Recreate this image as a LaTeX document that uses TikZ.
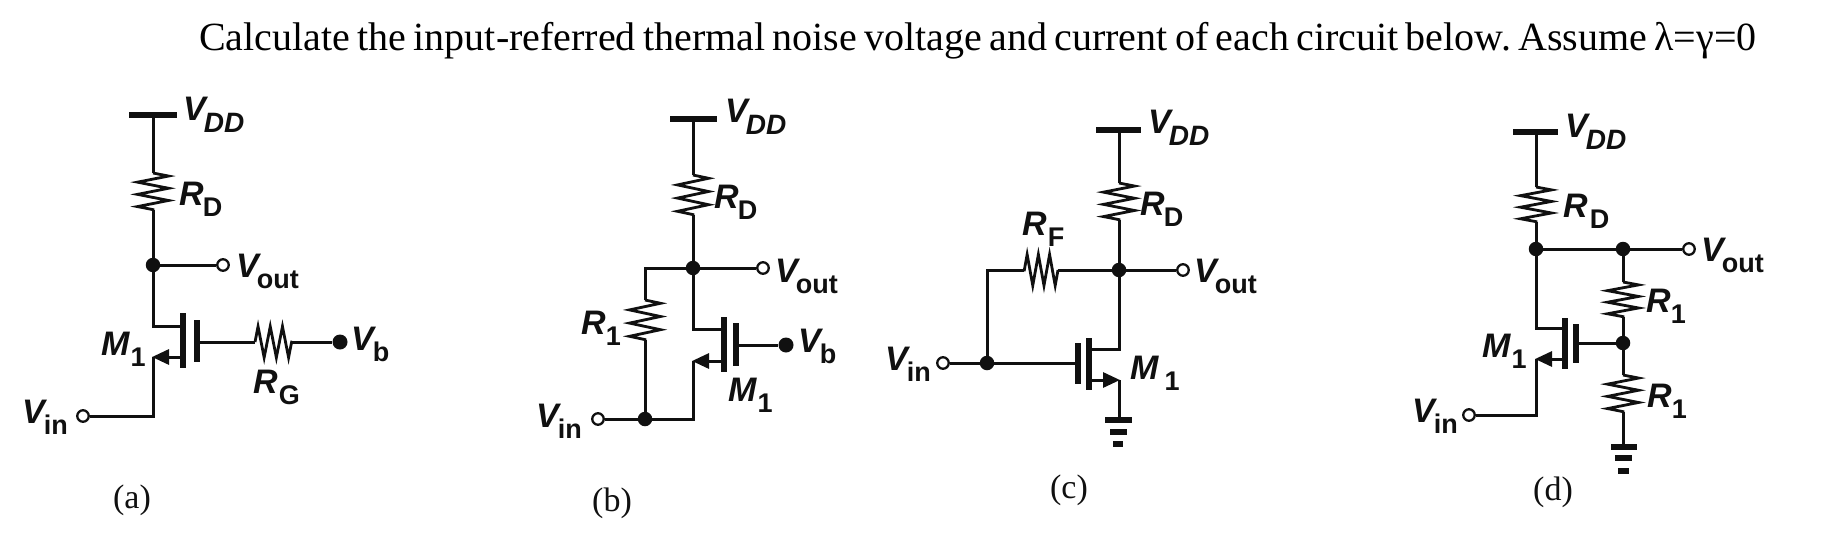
\documentclass[tikz,border=0pt]{standalone}
\usepackage{fontspec}
\setmainfont{Liberation Serif}
\newfontfamily\hv{Liberation Sans}
\usetikzlibrary{arrows.meta,decorations.pathmorphing,calc}
\definecolor{ink}{HTML}{101010}
% main letter (bold italic) with lowered subscript
\newcommand{\Main}[1]{{\fontsize{34}{34}\selectfont\hv\bfseries\itshape #1}}
\newcommand{\SubU}[2]{\kern#1pt\raisebox{-11pt}{\fontsize{27}{27}\selectfont\hv\bfseries #2}}
\newcommand{\SubI}[2]{\kern#1pt\raisebox{-12pt}{\fontsize{28}{28}\selectfont\hv\bfseries\itshape #2}}
\tikzset{
  x=1pt,y=-1pt,
  wire/.style={line width=3pt,draw=ink,line join=miter},
  bar/.style={line width=5.5pt,draw=ink},
  res/.style={line width=2.8pt,draw=ink,decorate,decoration={zigzag,segment length=#1*0.33pt,amplitude=15.5pt}},
  src/.style={line width=3pt,draw=ink,-{Triangle[length=17pt,width=15pt,color=ink]},shorten >=-1pt},
  dot/.style={circle,fill=ink,draw=none,minimum size=14.5pt,inner sep=0pt},
  port/.style={circle,fill=white,draw=ink,line width=2.3pt,minimum size=11.5pt,inner sep=0pt},
  lab/.style={anchor=base west,inner sep=0pt,text=ink},
  sublabel/.style={inner sep=0pt,text=ink,font=\fontsize{34}{34}\selectfont},
}
\begin{document}
\begin{tikzpicture}
\useasboundingbox (0,0) rectangle (1840,544);
\fill[white] (0,0) rectangle (1840,544);
\node[anchor=base west,inner sep=0pt,text=black,font=\fontsize{40}{40}\selectfont] (title) at (199,50) {\frenchspacing\spaceskip=7.3pt Calculate the input-referred thermal noise voltage and current of each circuit below. Assume λ=γ=0};

%% ---------- (a)
\coordinate (aVa) at (129,115); \coordinate (aVb) at (177,115); \coordinate (aV) at (153,115);
\coordinate (aR1) at (153,173); \coordinate (aR2) at (153,210);
\node[dot] (aO) at (153,265) {};
\node[port] (aOut) at (223,265) {};
\coordinate (aD) at (153,326); \coordinate (aDc) at (183,326);
\coordinate (aCa) at (183,313); \coordinate (aCb) at (183,368);
\coordinate (aGa) at (197,320); \coordinate (aGb) at (197,362); \coordinate (aG) at (197,342);
\coordinate (aGR1) at (255,342); \coordinate (aGR2) at (292,342);
\node[dot,minimum size=15pt] (aVbias) at (340,342) {};
\coordinate (aSc) at (183,357); \coordinate (aS) at (153,357); \coordinate (aSb) at (153,416);
\node[port] (aIn) at (83,416) {};
\draw[bar] (aVa) -- (aVb);
\draw[wire] (aV) -- (aR1); \draw[res=37] (aR1) -- (aR2); \draw[wire] (aR2) -- (aO);
\draw[wire] (aO) -- (aOut);
\draw[wire] (aO) -- (aD) -- (aDc);
\draw[bar] (aCa) -- (aCb); \draw[bar] (aGa) -- (aGb);
\draw[wire] (aG) -- (aGR1); \draw[res=37] (aGR1) -- (aGR2); \draw[wire] (aGR2) -- (aVbias);
\draw[src] (aSc) -- (aS);
\draw[wire] (aS) -- (aSb) -- (aIn);
\node[lab] (aLV) at (183,120) {\Main{V}\SubI{-2}{DD}};
\node[lab] (aLR) at (179,205) {\Main{R}\SubU{-1}{D}};
\node[lab] (aLO) at (236,277) {\Main{V}\SubU{-2}{out}};
\node[lab] (aLB) at (351,350) {\Main{V}\SubU{-1}{b}};
\node[lab] (aLM) at (101,355) {\Main{M}\SubU{1}{1}};
\node[lab] (aLG) at (253,393) {\Main{R}\SubU{1}{G}};
\node[lab] (aLI) at (22,423) {\Main{V}\SubU{-1}{in}};
\node[sublabel] (aCap) at (132,500) {(a)};

%% ---------- (b)
\coordinate (bVa) at (670,119); \coordinate (bVb) at (717,119); \coordinate (bV) at (693,119);
\coordinate (bR1) at (693,175); \coordinate (bR2) at (693,215);
\node[dot] (bO) at (693,268) {};
\node[port] (bOut) at (763,268) {};
\coordinate (bL) at (645,268); \coordinate (bF1) at (645,300); \coordinate (bF2) at (645,340);
\node[dot] (bJ) at (645,419) {};
\node[port] (bIn) at (598,419) {};
\coordinate (bD) at (693,329); \coordinate (bDc) at (724,329);
\coordinate (bCa) at (724,317); \coordinate (bCb) at (724,372);
\coordinate (bGa) at (736,323); \coordinate (bGb) at (736,366); \coordinate (bG) at (736,345);
\node[dot,minimum size=15pt] (bVbias) at (786,345) {};
\coordinate (bSc) at (724,361); \coordinate (bS) at (693,361); \coordinate (bSb) at (693,419);
\draw[bar] (bVa) -- (bVb);
\draw[wire] (bV) -- (bR1); \draw[res=40] (bR1) -- (bR2); \draw[wire] (bR2) -- (bO);
\draw[wire] (bO) -- (bOut);
\draw[wire] (bO) -- (bL) -- (bF1); \draw[res=40] (bF1) -- (bF2); \draw[wire] (bF2) -- (bJ);
\draw[wire] (bJ) -- (bIn);
\draw[wire] (bO) -- (bD) -- (bDc);
\draw[bar] (bCa) -- (bCb); \draw[bar] (bGa) -- (bGb);
\draw[wire] (bG) -- (bVbias);
\draw[src] (bSc) -- (bS);
\draw[wire] (bS) -- (bSb) -- (bJ);
\node[lab] (bLV) at (725,122) {\Main{V}\SubI{-2}{DD}};
\node[lab] (bLR) at (714,208) {\Main{R}\SubU{-1}{D}};
\node[lab] (bLO) at (775,282) {\Main{V}\SubU{-2}{out}};
\node[lab] (bLB) at (798,352) {\Main{V}\SubU{-1}{b}};
\node[lab] (bLF) at (581,334) {\Main{R}\SubU{0}{1}};
\node[lab] (bLM) at (728,401) {\Main{M}\SubU{1}{1}};
\node[lab] (bLI) at (536,427) {\Main{V}\SubU{-1}{in}};
\node[sublabel] (bCap) at (612,503) {(b)};

%% ---------- (c)
\coordinate (cVa) at (1096,130); \coordinate (cVb) at (1141,130); \coordinate (cV) at (1119,130);
\coordinate (cR1) at (1119,183); \coordinate (cR2) at (1119,220);
\node[dot] (cO) at (1119,270) {};
\node[port] (cOut) at (1183,270) {};
\coordinate (cF2) at (1058,270); \coordinate (cF1) at (1024,270); \coordinate (cL) at (987,270);
\node[dot] (cJ) at (987,363) {};
\node[port] (cIn) at (943,363) {};
\coordinate (cG) at (1078,363); \coordinate (cGa) at (1078,343); \coordinate (cGb) at (1078,384);
\coordinate (cCa) at (1089,338); \coordinate (cCb) at (1089,390);
\coordinate (cDc) at (1089,349); \coordinate (cD) at (1119,349);
\coordinate (cSc) at (1089,380); \coordinate (cS) at (1119,380);
\coordinate (cGnd) at (1119,420);
\coordinate (cG1a) at (1105,420); \coordinate (cG1b) at (1132,420);
\coordinate (cG2a) at (1110,432); \coordinate (cG2b) at (1127,432);
\coordinate (cG3a) at (1113,444); \coordinate (cG3b) at (1123,444);
\draw[bar] (cVa) -- (cVb);
\draw[wire] (cV) -- (cR1); \draw[res=37] (cR1) -- (cR2); \draw[wire] (cR2) -- (cO);
\draw[wire] (cO) -- (cOut);
\draw[wire] (cO) -- (cF2); \draw[res=34] (cF2) -- (cF1); \draw[wire] (cF1) -- (cL) -- (cJ);
\draw[wire] (cIn) -- (cJ) -- (cG);
\draw[bar] (cGa) -- (cGb); \draw[bar] (cCa) -- (cCb);
\draw[wire] (cO) -- (cD) -- (cDc);
\draw[src] (cSc) -- (cS);
\draw[wire] (cS) -- (cGnd);
\draw[bar] (cG1a) -- (cG1b); \draw[bar] (cG2a) -- (cG2b); \draw[bar] (cG3a) -- (cG3b);
\node[lab] (cLV) at (1148,133) {\Main{V}\SubI{-2}{DD}};
\node[lab] (cLR) at (1140,215) {\Main{R}\SubU{-1}{D}};
\node[lab] (cLF) at (1022,235) {\Main{R}\SubU{1}{F}};
\node[lab] (cLO) at (1194,282) {\Main{V}\SubU{-2}{out}};
\node[lab] (cLI) at (885,370) {\Main{V}\SubU{-1}{in}};
\node[lab] (cLM) at (1130,379) {\Main{M}\SubU{6}{1}};
\node[sublabel] (cCap) at (1069,490) {(c)};

%% ---------- (d)
\coordinate (dVa) at (1513,132); \coordinate (dVb) at (1558,132); \coordinate (dV) at (1536,132);
\coordinate (dR1) at (1536,187); \coordinate (dR2) at (1536,222);
\node[dot] (dO) at (1536,249) {};
\node[dot] (dP) at (1623,249) {};
\node[port] (dOut) at (1689,249) {};
\coordinate (dA1) at (1623,282); \coordinate (dA2) at (1623,317);
\node[dot] (dM) at (1623,343) {};
\coordinate (dB1) at (1623,375); \coordinate (dB2) at (1623,412);
\coordinate (dGnd) at (1623,447);
\coordinate (dG1a) at (1611,447); \coordinate (dG1b) at (1637,447);
\coordinate (dG2a) at (1615,458); \coordinate (dG2b) at (1632,458);
\coordinate (dG3a) at (1618,471); \coordinate (dG3b) at (1629,471);
\coordinate (dG) at (1576,343); \coordinate (dGa) at (1576,324); \coordinate (dGb) at (1576,363);
\coordinate (dCa) at (1565,318); \coordinate (dCb) at (1565,369);
\coordinate (dDc) at (1565,328); \coordinate (dD) at (1536,328);
\coordinate (dSc) at (1565,359); \coordinate (dS) at (1536,359); \coordinate (dSb) at (1536,415);
\node[port] (dIn) at (1469,415) {};
\draw[bar] (dVa) -- (dVb);
\draw[wire] (dV) -- (dR1); \draw[res=35] (dR1) -- (dR2); \draw[wire] (dR2) -- (dO);
\draw[wire] (dO) -- (dP) -- (dOut);
\draw[wire] (dP) -- (dA1); \draw[res=35] (dA1) -- (dA2); \draw[wire] (dA2) -- (dM);
\draw[wire] (dM) -- (dB1); \draw[res=37] (dB1) -- (dB2); \draw[wire] (dB2) -- (dGnd);
\draw[bar] (dG1a) -- (dG1b); \draw[bar] (dG2a) -- (dG2b); \draw[bar] (dG3a) -- (dG3b);
\draw[wire] (dM) -- (dG);
\draw[bar] (dGa) -- (dGb); \draw[bar] (dCa) -- (dCb);
\draw[wire] (dO) -- (dD) -- (dDc);
\draw[src] (dSc) -- (dS);
\draw[wire] (dS) -- (dSb) -- (dIn);
\node[lab] (dLV) at (1565,137) {\Main{V}\SubI{-2}{DD}};
\node[lab] (dLR) at (1563,217) {\Main{R}\SubU{2}{D}};
\node[lab] (dLO) at (1701,261) {\Main{V}\SubU{-2}{out}};
\node[lab] (dLA) at (1646,312) {\Main{R}\SubU{0}{1}};
\node[lab] (dLB) at (1647,407) {\Main{R}\SubU{0}{1}};
\node[lab] (dLM) at (1482,357) {\Main{M}\SubU{1}{1}};
\node[lab] (dLI) at (1412,422) {\Main{V}\SubU{-1}{in}};
\node[sublabel] (dCap) at (1553,492) {(d)};
\end{tikzpicture}
\end{document}
